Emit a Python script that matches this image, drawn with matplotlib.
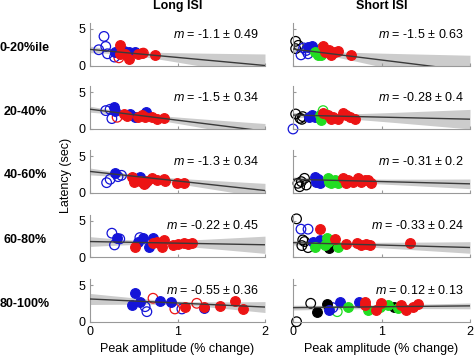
import numpy as np
import matplotlib
matplotlib.use('Agg')
import matplotlib.pyplot as plt

plt.rcParams['font.family'] = ['Liberation Sans', 'DejaVu Sans']
plt.rcParams['mathtext.fontset'] = 'custom'
plt.rcParams['mathtext.it'] = 'Liberation Sans:italic'
plt.rcParams['mathtext.rm'] = 'Liberation Sans'

# point codes: upper case = filled, lower case = open
# B/b blue, R/r red, G/g green, K/k black

# ---- Long ISI ----
long1_x = [0.16, 0.18, 0.10, 0.20, 0.28, 0.29, 0.39, 0.44, 0.51, 0.34, 0.44, 0.34, 0.55, 0.59, 0.74, 0.40, 0.33, 0.61]
long1_y = [3.97, 2.60, 2.15, 1.60, 1.15, 1.78, 1.96, 1.78, 1.78, 2.74, 0.91, 1.60, 1.60, 1.69, 1.37, 1.60, 1.05, 1.69]
long1_c = "bbbbbBBBBRRRRRRRrr"

long2_x = [0.18, 0.25, 0.23, 0.31, 0.27, 0.28, 0.46, 0.64, 0.51, 0.39, 0.42, 0.55, 0.63, 0.71, 0.76, 0.84, 0.59]
long2_y = [2.51, 1.42, 2.69, 1.60, 2.97, 2.51, 2.05, 2.37, 1.69, 2.05, 1.78, 1.69, 1.60, 1.60, 1.32, 1.46, 1.92]
long2_c = "bbbrBBBBBRRRRRRRR"

long3_x = [0.19, 0.23, 0.36, 0.32, 0.29, 0.57, 0.63, 0.59, 0.48, 0.50, 0.57, 0.65, 0.71, 0.76, 0.84, 0.86, 0.99, 1.07, 0.62, 0.50]
long3_y = [1.37, 1.83, 2.37, 2.19, 2.65, 2.19, 1.28, 1.74, 2.19, 1.51, 1.64, 1.64, 1.96, 1.74, 1.83, 1.60, 1.37, 1.28, 1.19, 1.96]
long3_c = "bbbbBBBBRRRRRRRRRRRr"

long4_x = [0.25, 0.28, 0.34, 0.57, 0.305, 0.61, 0.67, 0.72, 0.55, 0.51, 0.76, 0.82, 0.84, 0.95, 1.01, 1.07, 1.12, 1.16, 0.72]
long4_y = [3.29, 1.69, 2.51, 2.69, 2.60, 2.60, 1.46, 2.69, 2.15, 1.46, 2.15, 1.46, 2.37, 1.69, 1.78, 1.92, 1.78, 1.92, 1.92]
long4_c = "bbbbBBBBBRRRRRRRRRR"

long5_x = [0.51, 0.48, 0.57, 0.80, 0.93, 1.30, 0.63, 0.65, 1.05, 0.72, 0.97, 1.22, 1.09, 1.49, 1.66, 1.75, 1.30]
long5_y = [3.88, 2.28, 2.74, 2.83, 2.74, 1.92, 2.05, 1.37, 1.74, 3.20, 1.74, 2.51, 2.05, 2.15, 2.83, 1.74, 2.05]
long5_c = "BBBBBBbbbrrrRRRRR"

# ---- Short ISI ----
short1_x = [0.03, 0.03, 0.06, 0.09, 0.15, 0.12, 0.17, 0.17, 0.21, 0.25, 0.28, 0.32, 0.32, 0.34, 0.36, 0.41, 0.47, 0.51, 0.43, 0.66]
short1_y = [3.30, 2.30, 2.75, 1.45, 2.05, 2.40, 1.60, 2.50, 2.70, 1.85, 1.40, 1.40, 2.30, 2.60, 1.90, 2.10, 1.80, 2.00, 1.50, 1.45]
short1_c = "kkkbbbbBBGGGgRRRRRRR"

short2_x = [0.00, 0.03, 0.08, 0.11, 0.10, 0.18, 0.22, 0.25, 0.34, 0.32, 0.30, 0.34, 0.40, 0.45, 0.51, 0.57, 0.60, 0.64, 0.70, 0.43]
short2_y = [0.00, 2.05, 1.46, 1.69, 1.32, 1.69, 1.92, 1.60, 2.51, 1.23, 1.92, 2.15, 1.92, 1.60, 1.42, 2.15, 1.92, 1.69, 1.42, 1.32]
short2_c = "bkkkkBBBgGGRRRRRRRRR"

short3_x = [0.075, 0.094, 0.13, 0.15, 0.056, 0.245, 0.28, 0.30, 0.26, 0.395, 0.43, 0.47, 0.51, 0.41,
            0.565, 0.62, 0.68, 0.73, 0.81, 0.885, 0.60, 0.77, 0.85]
short3_y = [0.82, 1.51, 1.96, 1.05, 1.28, 2.19, 1.83, 1.28, 1.51, 1.96, 1.28, 1.74, 1.37, 1.51,
            1.96, 1.74, 1.51, 1.96, 1.74, 1.37, 1.28, 1.51, 1.74]
short3_c = "kkkkkBBBBGGGGGRRRRRRRRR"

short4_x = [0.04, 0.11, 0.10, 0.17, 0.13, 0.09, 0.17, 0.23, 0.32, 0.30, 0.245, 0.38, 0.395, 0.51, 0.36, 0.41,
            0.30, 0.47, 0.60, 0.72, 0.83, 0.87, 1.32, 0.77]
short4_y = [5.25, 2.37, 1.60, 1.32, 2.15, 3.84, 3.84, 2.15, 2.15, 2.37, 1.46, 2.60, 2.15, 1.46, 1.69, 1.32,
            3.84, 2.47, 1.83, 2.00, 1.78, 1.69, 2.00, 1.69]
short4_c = "kkkkkbbBBBGGGGGKRRRRRRRR"

short5_x = [0.20, 0.04, 0.275, 0.38, 1.14, 0.41, 0.53, 0.75, 0.45, 0.50, 0.62, 0.85, 0.98, 1.07, 1.19,
            0.81, 0.94, 0.99, 1.22, 1.28, 1.36, 1.41, 0.81]
short5_y = [2.51, 0.00, 1.37, 2.37, 2.05, 1.60, 2.65, 2.65, 1.92, 1.37, 2.05, 1.60, 2.05, 2.28, 1.92,
            2.65, 1.60, 2.51, 2.28, 1.60, 2.05, 2.37, 2.28]
short5_c = "kkKKKBBBbgGGGGGRRRRRRRR"

# regression fits (intercept, slope, slope s.e.)
long_b0 = [2.2, 2.7, 2.9, 2.15, 3.1]
long_m = [-1.1, -1.5, -1.3, -0.22, -0.55]
long_se = [0.49, 0.34, 0.34, 0.45, 0.36]
short_b0 = [2.25, 1.9, 1.83, 2.0, 1.92]
short_m = [-1.5, -0.28, -0.31, -0.33, 0.12]
short_se = [0.63, 0.4, 0.2, 0.24, 0.13]

row_labels = ["0-20%ile", "20-40%", "40-60%", "60-80%", "80-100%"]
col_titles = ["Long ISI", "Short ISI"]

long_pts = [(long1_x, long1_y, long1_c), (long2_x, long2_y, long2_c), (long3_x, long3_y, long3_c),
            (long4_x, long4_y, long4_c), (long5_x, long5_y, long5_c)]
short_pts = [(short1_x, short1_y, short1_c), (short2_x, short2_y, short2_c), (short3_x, short3_y, short3_c),
             (short4_x, short4_y, short4_c), (short5_x, short5_y, short5_c)]

colors = {'b': '#1414d8', 'r': '#ec1414', 'g': '#22dd22', 'k': 'black'}
draw_order = "kbgrKBGR"

W, H = 474, 362
fig = plt.figure(figsize=(W / 100, H / 100), dpi=100)

col_left = [90, 293]
col_width = [175, 177]
row_bottom = [65.5, 129, 192.7, 257.3, 321.7]
ax_h = 42.5

xx = np.linspace(0, 2, 200)

for col, (pts, b0s, ms, ses) in enumerate([(long_pts, long_b0, long_m, long_se),
                                             (short_pts, short_b0, short_m, short_se)]):
    for row in range(5):
        ax = fig.add_axes([col_left[col] / W, 1 - row_bottom[row] / H, col_width[col] / W, ax_h / H])
        x, y, c = pts[row]
        x = np.array(x)
        y = np.array(y)
        c = np.array(list(c))

        b0, m, se = b0s[row], ms[row], ses[row]
        xc = x.mean()
        fit = b0 + m * xx
        half = 1.96 * np.sqrt(0.13 ** 2 + (se * (xx - xc)) ** 2)
        ax.fill_between(xx, fit - half, fit + half, color='#cccccc', lw=0, zorder=1)

        for code in draw_order:
            sel = c == code
            if not sel.any():
                continue
            col_ = colors[code.lower()]
            face = col_ if code.isupper() else 'none'
            ax.scatter(x[sel], y[sel], s=48, facecolors=face, edgecolors=col_,
                       linewidths=0.9, zorder=2, clip_on=False)

        ax.plot(xx, fit, color='#3a3a3a', lw=1.0, zorder=3)

        ax.set_xlim(0, 2)
        ax.set_ylim(0, 5.8)
        ax.set_xticks([0, 1, 2])
        ax.set_yticks([0, 5])
        for s in ['top', 'right']:
            ax.spines[s].set_visible(False)
        for s in ['left', 'bottom']:
            ax.spines[s].set_color('#999999')
            ax.spines[s].set_linewidth(0.8)
        ax.tick_params(direction='in', length=2.5, width=0.8, color='#999999',
                       labelsize=9, pad=3)
        if row < 4:
            ax.set_xticklabels([])
        else:
            ax.set_xlabel("Peak amplitude (% change)", fontsize=9, labelpad=4)
        if col == 1:
            ax.set_yticklabels([])

        ax.text(0.965, 0.74, "$m$ = %g \u00b1 %g" % (m, se), transform=ax.transAxes,
                ha='right', va='center', fontsize=9)

        if row == 0:
            ax.set_title(col_titles[col], fontsize=9, fontweight='bold', pad=10)

        if col == 0:
            fig.text(25 / W, 1 - (row_bottom[row] - ax_h / 2 + 4) / H, row_labels[row],
                     ha='center', va='center', fontsize=9, fontweight='bold')

fig.text(66 / W, 1 - 175 / H, "Latency (sec)", rotation=90, ha='center', va='center', fontsize=9)

fig.savefig("out.png", dpi=100)
